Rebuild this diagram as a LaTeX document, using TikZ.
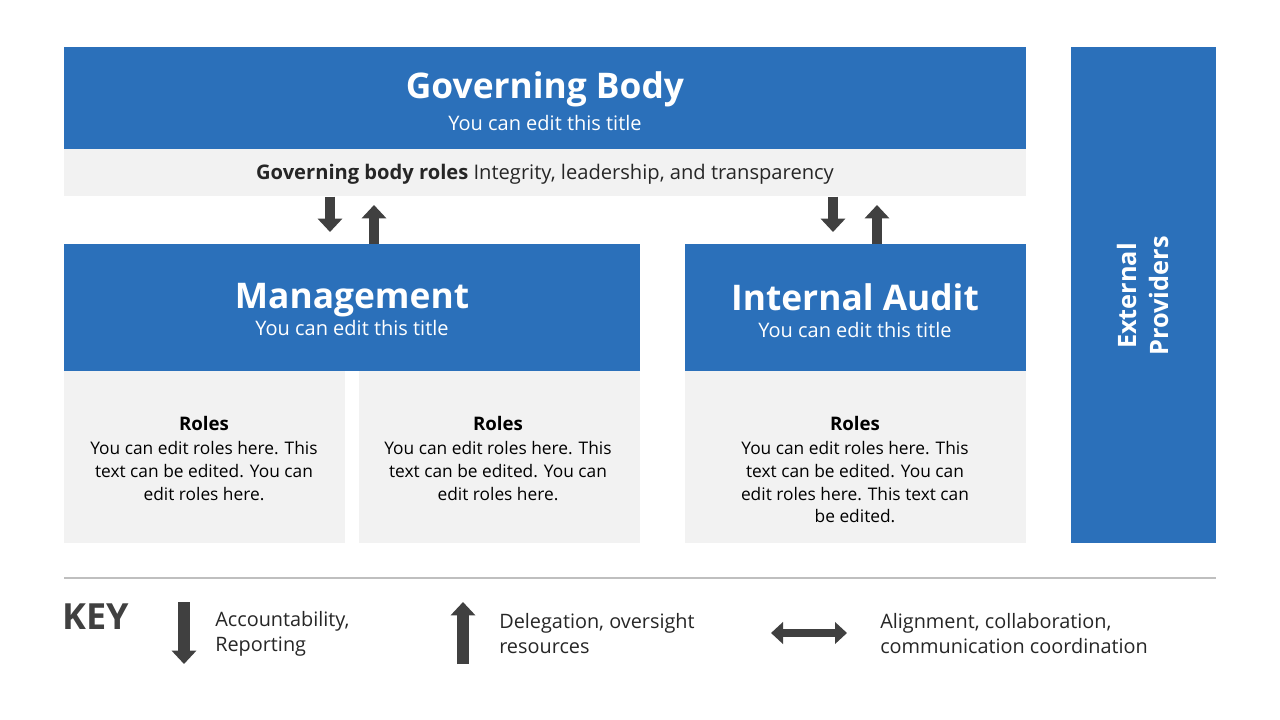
\documentclass[tikz,border=0pt]{standalone}
\usepackage{fontspec}
\setmainfont{Open Sans}
\usetikzlibrary{arrows.meta}
\definecolor{blu}{HTML}{2B70BA}
\definecolor{gry}{HTML}{F2F2F2}
\definecolor{drk}{HTML}{404040}
\definecolor{txt}{HTML}{262626}
\definecolor{sep}{HTML}{BFBFBF}
\tikzset{
  blubox/.style={fill=blu, draw=none, anchor=north west, inner sep=0pt},
  grybox/.style={fill=gry, draw=none, anchor=north west, inner sep=0pt},
  bigtitle/.style={text=white, font=\fontsize{26.5}{30}\selectfont\bfseries, inner sep=0pt},
  subtitle/.style={text=white, font=\fontsize{15}{18}\selectfont, inner sep=0pt},
  rolestxt/.style={text=black, font=\fontsize{13}{16.9}\selectfont, align=center, inner sep=0pt, anchor=north},
  keytxt/.style={text=txt, font=\fontsize{14.9}{18.75}\selectfont, align=left, inner sep=0pt, anchor=west},
  bigarrow/.style={draw=drk, line width=7.5pt, -{Triangle[width=18pt,length=10pt]}},
  dblarrow/.style={draw=drk, line width=6.5pt, {Triangle[width=16pt,length=9pt]}-{Triangle[width=16pt,length=9pt]}},
}
\begin{document}
\begin{tikzpicture}[x=0.75pt,y=-0.75pt]
\useasboundingbox (0,0) rectangle (1280,720);
% boxes
\node[blubox, minimum width=962*0.75pt, minimum height=102*0.75pt] (gb) at (64,47) {};
\node[grybox, minimum width=962*0.75pt, minimum height=47*0.75pt] (band) at (64,149) {};
\node[blubox, minimum width=576*0.75pt, minimum height=127*0.75pt] (mg) at (64,244) {};
\node[blubox, minimum width=341*0.75pt, minimum height=127*0.75pt] (ia) at (685,244) {};
\node[grybox, minimum width=281*0.75pt, minimum height=172*0.75pt] (r1) at (64,371) {};
\node[grybox, minimum width=281*0.75pt, minimum height=172*0.75pt] (r2) at (359,371) {};
\node[grybox, minimum width=341*0.75pt, minimum height=172*0.75pt] (r3) at (685,371) {};
\node[blubox, minimum width=145*0.75pt, minimum height=496*0.75pt] (ext) at (1071,47) {};
% titles
\node[bigtitle] (gbt) at (545,89) {Governing Body};
\node[subtitle] (gbs) at (545,123) {You can edit this title};
\node[text=txt, font=\fontsize{15.1}{17}\selectfont, inner sep=0pt] (bandt) at (545,174) {\textbf{Governing body roles} Integrity, leadership, and transparency};
\node[bigtitle] (mgt) at (352,300) {Management};
\node[subtitle] (mgs) at (352,328) {You can edit this title};
\node[bigtitle] (iat) at (855,297) {Internal Audit};
\node[subtitle] (ias) at (855,330) {You can edit this title};
\node[text=white, font=\fontsize{19}{24}\selectfont\bfseries, align=center, rotate=90, inner sep=0pt] (extt) at (1143,296) {External\\Providers};
% roles
\node[rolestxt] (r1t) at (204,416) {{\bfseries\fontsize{14}{16.9}\selectfont Roles}\\[1.5pt]You can edit roles here. This\\text can be edited. You can\\edit roles here.};
\node[rolestxt] (r2t) at (498,416) {{\bfseries\fontsize{14}{16.9}\selectfont Roles}\\[1.5pt]You can edit roles here. This\\text can be edited. You can\\edit roles here.};
\node[rolestxt] (r3t) at (855,416) {{\bfseries\fontsize{14}{16.9}\selectfont Roles}\\[1.5pt]You can edit roles here. This\\text can be edited. You can\\edit roles here. This text can\\be edited.};
% arrows between levels
\coordinate (a1) at (330,232);
\coordinate (a2) at (374,205);
\coordinate (a3) at (833,232);
\coordinate (a4) at (877,205);
\draw[bigarrow] (band.south -| a1) -- (a1);
\draw[bigarrow] (mg.north -| a2) -- (a2);
\draw[bigarrow] (band.south -| a3) -- (a3);
\draw[bigarrow] (ia.north -| a4) -- (a4);
% separator
\coordinate (sl) at (64,578);
\coordinate (sr) at (1216,578);
\draw[sep, line width=1.5pt] (sl) -- (sr);
% key
\node[text=drk, font=\fontsize{27}{30}\selectfont\bfseries, anchor=west, inner sep=0pt] (key) at (62,617) {KEY};
\coordinate (k1a) at (184,602);
\coordinate (k1b) at (184,664);
\draw[bigarrow, line width=9pt, -{Triangle[width=18pt,length=10pt]}] (k1a) -- (k1b);
\node[keytxt] (k1t) at (215,634) {Accountability,\\Reporting};
\coordinate (k2a) at (463,664);
\coordinate (k2b) at (463,602);
\draw[bigarrow, line width=9pt, -{Triangle[width=18pt,length=10pt]}] (k2a) -- (k2b);
\node[keytxt] (k2t) at (499,634) {Delegation, oversight\\resources};
\coordinate (k3a) at (771,633);
\coordinate (k3b) at (847,633);
\draw[dblarrow] (k3a) -- (k3b);
\node[keytxt] (k3t) at (880,634) {Alignment, collaboration,\\communication coordination};
\end{tikzpicture}
\end{document}
